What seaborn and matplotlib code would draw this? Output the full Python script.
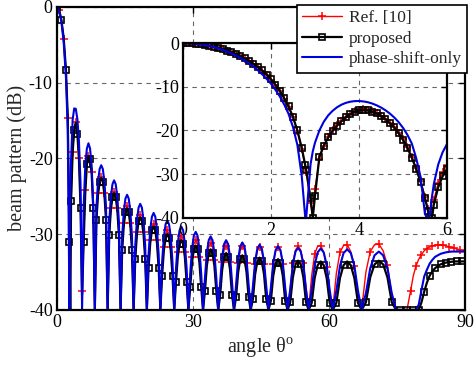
import matplotlib
matplotlib.use("Agg")
import matplotlib.pyplot as plt
import seaborn as sns

# ---- main plot samples (deg / dB) ----
# one row per lobe: 1/8 ... 7/8 of the lobe, then the next null
ang_main = [
    0, 0.5, 1.0, 1.5, 2.0, 2.4, 2.78, 2.95,
    3.128, 3.475, 3.823, 4.17, 4.518, 4.865, 5.213, 5.56,
    5.911, 6.263, 6.614, 6.965, 7.316, 7.668, 8.019, 8.37,
    8.723, 9.075, 9.428, 9.78, 10.133, 10.485, 10.838, 11.19,
    11.546, 11.903, 12.259, 12.615, 12.971, 13.328, 13.684, 14.04,
    14.40, 14.76, 15.12, 15.48, 15.84, 16.20, 16.56, 16.92,
    17.285, 17.65, 18.015, 18.38, 18.745, 19.11, 19.475, 19.84,
    20.213, 20.585, 20.958, 21.33, 21.703, 22.075, 22.448, 22.82,
    23.203, 23.585, 23.968, 24.35, 24.733, 25.115, 25.498, 25.88,
    26.27, 26.66, 27.05, 27.44, 27.83, 28.22, 28.61, 29.00,
    29.404, 29.808, 30.211, 30.615, 31.019, 31.423, 31.826, 32.23,
    32.649, 33.068, 33.486, 33.905, 34.324, 34.743, 35.161, 35.58,
    36.015, 36.45, 36.885, 37.32, 37.755, 38.19, 38.625, 39.06,
    39.52, 39.98, 40.44, 40.90, 41.36, 41.82, 42.28, 42.74,
    43.23, 43.72, 44.21, 44.70, 45.19, 45.68, 46.17, 46.66,
    47.188, 47.715, 48.243, 48.77, 49.298, 49.825, 50.353, 50.88,
    51.46, 52.04, 52.62, 53.20, 53.78, 54.36, 54.94, 55.52,
    56.184, 56.848, 57.511, 58.175, 58.839, 59.503, 60.166, 60.83,
    61.626, 62.423, 63.219, 64.015, 64.811, 65.608, 66.404, 67.2,
    68.15, 69.10, 70.05, 71.0, 71.95, 72.90, 73.85, 74.8,
    75.6, 76.4, 77.2, 78.0, 78.6, 79.2, 79.8, 80.4, 81.0, 81.6,
    82.2, 82.8, 83.4, 84.0, 84.6, 85.2, 85.8, 86.4, 87.0, 87.6,
    88.2, 88.8, 89.4, 90.0,
]

phase_main = [
    0, -0.47, -1.94, -4.65, -9.3, -16.2, -40, -24.8,
    -20.3, -14.9, -13.4, -13.45, -14.8, -17.7, -23.3, -40,
    -26.3, -21.0, -18.7, -18.0, -18.7, -21.0, -26.3, -40,
    -26.4, -23.1, -21.4, -20.9, -21.4, -23.1, -26.4, -40,
    -28.4, -25.1, -23.4, -22.9, -23.4, -25.1, -28.4, -40,
    -30.3, -27.0, -25.3, -24.8, -25.3, -27.0, -30.3, -40,
    -31.5, -28.2, -26.5, -26.0, -26.5, -28.2, -31.5, -40,
    -32.7, -29.4, -27.7, -27.2, -27.7, -29.4, -32.7, -40,
    -33.7, -30.4, -28.7, -28.2, -28.7, -30.4, -33.7, -40,
    -34.5, -31.2, -29.5, -29.0, -29.5, -31.2, -34.5, -40,
    -35.2, -31.9, -30.2, -29.7, -30.2, -31.9, -35.2, -40,
    -35.8, -32.5, -30.8, -30.3, -30.8, -32.5, -35.8, -40,
    -36.3, -33.0, -31.3, -30.8, -31.3, -33.0, -36.3, -40,
    -36.6, -33.3, -31.6, -31.1, -31.6, -33.3, -36.6, -40,
    -36.9, -33.6, -31.9, -31.4, -31.9, -33.6, -36.9, -40,
    -37.1, -33.8, -32.1, -31.6, -32.1, -33.8, -37.1, -40,
    -37.3, -34.0, -32.3, -31.8, -32.3, -34.0, -37.3, -40,
    -37.4, -34.1, -32.4, -31.9, -32.4, -34.1, -37.4, -40,
    -37.5, -34.2, -32.5, -32.0, -32.5, -34.2, -37.5, -40,
    -37.8, -34.5, -32.8, -32.3, -32.8, -34.5, -37.8, -40,
    -40, -40, -40, -40, -40, -40, -39.3, -37.4, -35.6, -34.7,
    -33.9, -33.4, -33.0, -32.8, -32.6, -32.5, -32.4, -32.35, -32.3, -32.3,
    -32.3, -32.3, -32.3, -32.3,
]

proposed_main = [
    0, -0.42, -1.72, -4.1, -8.3, -14.5, -31.0, -40,
    -25.6, -19.2, -16.2, -15.3, -16.8, -20.1, -26.5, -38.0,
    -31.0, -24.5, -20.8, -19.9, -20.1, -22.0, -26.5, -40,
    -28.1, -24.8, -23.1, -22.6, -23.1, -24.8, -28.1, -40,
    -30.1, -26.8, -25.1, -24.6, -25.1, -26.8, -30.1, -40,
    -32.1, -28.8, -27.1, -26.6, -27.1, -28.8, -32.1, -40,
    -33.3, -30.0, -28.3, -27.8, -28.3, -30.0, -33.3, -40,
    -34.5, -31.2, -29.5, -29.0, -29.5, -31.2, -34.5, -40,
    -35.5, -32.2, -30.5, -30.0, -30.5, -32.2, -35.5, -40,
    -36.3, -33.0, -31.3, -30.8, -31.3, -33.0, -36.3, -40,
    -37.0, -33.7, -32.0, -31.5, -32.0, -33.7, -37.0, -40,
    -37.5, -34.2, -32.5, -32.0, -32.5, -34.2, -37.5, -40,
    -38.0, -34.7, -33.0, -32.5, -33.0, -34.7, -38.0, -40,
    -38.3, -35.0, -33.3, -32.8, -33.3, -35.0, -38.3, -40,
    -38.6, -35.3, -33.6, -33.1, -33.6, -35.3, -38.6, -40,
    -38.8, -35.5, -33.8, -33.3, -33.8, -35.5, -38.8, -40,
    -39.0, -35.7, -34.0, -33.5, -34.0, -35.7, -39.0, -40,
    -39.1, -35.8, -34.1, -33.6, -34.1, -35.8, -39.1, -40,
    -39.1, -35.8, -34.1, -33.6, -34.1, -35.8, -39.1, -40,
    -39.0, -35.7, -34.0, -33.5, -34.0, -35.7, -39.0, -40,
    -40, -40, -40, -40, -40, -40, -40, -39.0, -37.6, -36.4,
    -35.5, -34.9, -34.5, -34.2, -34.0, -33.85, -33.75, -33.7, -33.65, -33.6,
    -33.6, -33.6, -33.6, -33.6,
]

ref_main = [
    0, -0.45, -1.8, -4.2, -8.4, -14.6, -30.0, -40,
    -26.0, -19.1, -16.1, -15.2, -16.7, -20.0, -26.3, -37.5,
    -30.5, -24.2, -20.6, -19.7, -19.9, -21.8, -26.3, -40,
    -27.9, -24.6, -22.9, -22.4, -22.9, -24.6, -27.9, -40,
    -29.9, -26.6, -24.9, -24.4, -24.9, -26.6, -29.9, -40,
    -31.8, -28.5, -26.8, -26.3, -26.8, -28.5, -31.8, -40,
    -33.0, -29.7, -28.0, -27.5, -28.0, -29.7, -33.0, -40,
    -34.1, -30.8, -29.1, -28.6, -29.1, -30.8, -34.1, -40,
    -35.0, -31.7, -30.0, -29.5, -30.0, -31.7, -35.0, -40,
    -35.7, -32.4, -30.7, -30.2, -30.7, -32.4, -35.7, -40,
    -36.3, -33.0, -31.3, -30.8, -31.3, -33.0, -36.3, -40,
    -36.7, -33.4, -31.7, -31.2, -31.7, -33.4, -36.7, -40,
    -37.0, -33.7, -32.0, -31.5, -32.0, -33.7, -37.0, -40,
    -37.1, -33.8, -32.1, -31.6, -32.1, -33.8, -37.1, -40,
    -37.2, -33.9, -32.2, -31.7, -32.2, -33.9, -37.2, -40,
    -37.2, -33.9, -32.2, -31.7, -32.2, -33.9, -37.2, -40,
    -37.1, -33.8, -32.1, -31.6, -32.1, -33.8, -37.1, -40,
    -35.5, -32.6, -31.6, -31.5, -32.4, -34.3, -38.5, -40,
    -35.2, -32.4, -31.5, -31.4, -32.3, -34.2, -38.3, -40,
    -35.0, -32.3, -31.4, -31.3, -32.2, -34.1, -38.0, -40,
    -40, -40, -40, -37.5, -35.5, -34.2, -33.3, -32.7, -32.2, -31.9,
    -31.7, -31.55, -31.45, -31.4, -31.4, -31.45, -31.55, -31.65, -31.75, -31.85,
    -31.95, -32.05, -32.15, -32.2,
]

# ---- inset: zoom on 0-6 deg ----
ang_in = [
    0.0, 0.1, 0.2, 0.3, 0.4, 0.5, 0.6, 0.7, 0.8, 0.9,
    1.0, 1.1, 1.2, 1.3, 1.4, 1.5, 1.6, 1.7, 1.8, 1.9,
    2.0, 2.1, 2.2, 2.3, 2.4, 2.5, 2.6, 2.7, 2.78, 2.8, 2.9, 2.95,
    3.0, 3.1, 3.2, 3.3, 3.4, 3.5, 3.6, 3.7, 3.8, 3.9,
    4.0, 4.1, 4.2, 4.3, 4.4, 4.5, 4.6, 4.7, 4.8, 4.9,
    5.0, 5.1, 5.2, 5.3, 5.4, 5.5, 5.57, 5.6, 5.66, 5.7, 5.8, 5.9, 6.0,
]

phase_in = [
    0, -0.02, -0.07, -0.17, -0.3, -0.47, -0.68, -0.92, -1.22, -1.55,
    -1.94, -2.37, -2.85, -3.39, -3.98, -4.65, -5.4, -6.21, -7.12, -8.17,
    -9.3, -10.67, -12.2, -14.05, -16.2, -19.2, -23.3, -30.5, -40, -40, -27.7, -24.8,
    -22.8, -20.0, -18.0, -16.55, -15.5, -14.7, -14.1, -13.69, -13.42, -13.28,
    -13.26, -13.35, -13.53, -13.83, -14.23, -14.74, -15.36, -16.11, -17.01, -18.08,
    -19.38, -20.97, -22.97, -26.3, -30.6, -39.2, -40, -40, -35.1, -32.3, -27.8, -25.0, -23.1,
]

proposed_in = [
    0, -0.02, -0.06, -0.15, -0.27, -0.42, -0.6, -0.82, -1.08, -1.38,
    -1.72, -2.1, -2.52, -3.0, -3.52, -4.1, -4.75, -5.45, -6.25, -7.2,
    -8.3, -9.5, -10.9, -12.6, -14.5, -16.9, -20.0, -24.0, -28.0, -29.0, -35.5, -40,
    -35.0, -26.0, -23.5, -21.6, -20.1, -18.9, -17.9, -17.0, -16.3, -15.7,
    -15.4, -15.3, -15.4, -15.7, -16.1, -16.7, -17.4, -18.3, -19.3, -20.6,
    -22.1, -24.0, -26.2, -28.8, -31.8, -35.5, -38.5, -40, -40, -37.0, -33.0, -30.5, -28.8,
]

ref_in = [
    0, -0.02, -0.06, -0.15, -0.28, -0.43, -0.62, -0.84, -1.1, -1.4,
    -1.75, -2.13, -2.56, -3.04, -3.57, -4.15, -4.8, -5.5, -6.3, -7.25,
    -8.35, -9.6, -11.0, -12.7, -14.6, -17.0, -20.2, -24.3, -28.4, -29.5, -36.5, -40,
    -33.5, -26.5, -23.6, -21.6, -20.0, -18.8, -17.8, -16.9, -16.2, -15.6,
    -15.25, -15.15, -15.25, -15.55, -16.0, -16.6, -17.3, -18.2, -19.2, -20.5,
    -22.0, -23.8, -26.0, -28.6, -31.6, -35.2, -38.0, -40, -40, -36.0, -32.0, -29.5, -27.8,
]

labels = ["Ref. [10]", "proposed", "phase-shift-only"]

sns.set_style("white")
plt.rcParams["font.family"] = ["Liberation Serif", "DejaVu Serif"]
plt.rcParams["axes.unicode_minus"] = False
plt.rcParams["mathtext.fontset"] = "custom"
plt.rcParams["mathtext.rm"] = "Liberation Serif"

RED = "#ff0000"
BLACK = "#000000"
BLUE = "#0000dd"

fig = plt.figure(figsize=(4.74, 3.65), dpi=100)
ax = fig.add_axes([0.120, 0.151, 0.861, 0.830])
ax_in = fig.add_axes([0.386, 0.403, 0.557, 0.479])


def draw(a, x, ref, prop, phase, ms, every_red, every_black):
    sns.lineplot(x=x, y=ref, ax=a, sort=False, estimator=None, color=RED,
                 lw=1.0, marker="+", markersize=ms + 1.5, markevery=every_red,
                 markeredgecolor=RED, markeredgewidth=1.1, label=labels[0])
    sns.lineplot(x=x, y=prop, ax=a, sort=False, estimator=None, color=BLACK,
                 lw=1.6, marker="s", markersize=ms, markerfacecolor="none",
                 markevery=every_black,
                 markeredgecolor=BLACK, markeredgewidth=1.2, label=labels[1])
    sns.lineplot(x=x, y=phase, ax=a, sort=False, estimator=None, color=BLUE,
                 lw=1.5, label=labels[2])


draw(ax, ang_main, ref_main, proposed_main, phase_main, 4.2, (1, 2), 2)
draw(ax_in, ang_in, ref_in, proposed_in, phase_in, 4.2, 1, 1)

for a in (ax, ax_in):
    if a.get_legend() is not None:
        a.get_legend().remove()
    a.set_ylim(-40, 0)
    a.set_yticks([0, -10, -20, -30, -40])
    a.grid(True, linestyle=(0, (4, 4)), color="0.4", linewidth=0.8)
    a.set_axisbelow(True)
    a.tick_params(direction="in", top=True, right=True, length=4, width=1,
                  labelsize=13, pad=3, colors="black")
    for s in a.spines.values():
        s.set_linewidth(1.6)
        s.set_color("black")

ax.set_xlim(0, 90)
ax.set_xticks([0, 30, 60, 90])
ax.set_xlabel("angle θ$^{\\rm o}$", fontsize=14.5, labelpad=3)
ax.set_ylabel("beam pattern (dB)", fontsize=14.5, labelpad=1)

ax_in.set_xlim(0, 6)
ax_in.set_xticks([0, 2, 4, 6])

handles, _ = ax.get_legend_handles_labels()
leg = fig.legend(handles, labels, loc="upper right",
                 bbox_to_anchor=(467 / 474, 1 - 5 / 365),
                 frameon=True, fancybox=False, framealpha=1,
                 edgecolor="black", fontsize=12.5, borderaxespad=0,
                 borderpad=0.3, labelspacing=0.25, handlelength=2.3,
                 handletextpad=0.4)
leg.get_frame().set_linewidth(1.2)
for h in leg.legend_handles:
    h.set_markevery([1])

fig.savefig("out.png", dpi=100)
